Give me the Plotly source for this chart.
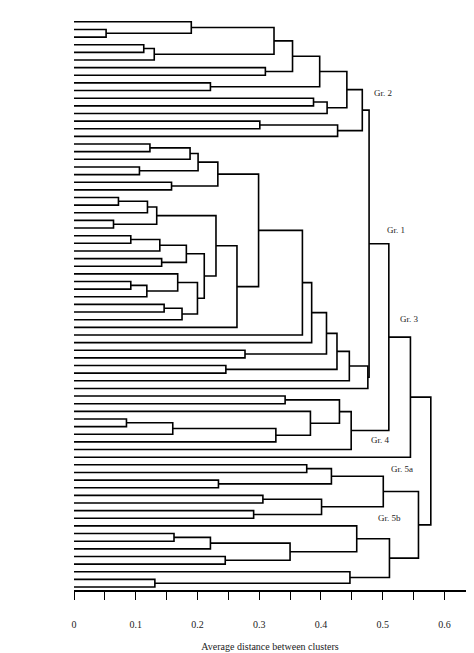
import plotly.graph_objects as go

leaves = ["Kolben","Extra Kolben","Extra Kolben II","Diamant","Rival","Diamant II","Tarami","Progress",
"Tilbi","Loja","Rubin","Drott","Vårpärl","Atle","Blanka","Atson","Kärn II","Prins","Snabbe","Kärn",
"Svenno","Saffran","Kadett","Ring","Sonett","Rang","Pompe","Troll","Sappo","Walter","William","Dragon",
"Ducke","Drabant","Trippel","Timmo","Canon","Sunnan","Nemares","Solser","Boru","Amy","Möystad","Reno",
"Tjalve","Bazatian","Sport","Tilly","Pondus","Fylgia","Fylgia II","Brons","Rusco","Fagott","Taava","Ulla",
"Apu","Peko","Ås I","Snögg II","Fram","Fram II","Snögg","Ås II","Kimmo","Trym","Skene","Tautra","Lanor",
"Touko","Nora","Norrøna","Safir","Rollo","Runar"]

merges = [  # (name, child a, child b, average distance)
("m1","Extra Kolben","Extra Kolben II",0.052),("m2","Kolben","m1",0.190),("m3","Diamant","Rival",0.113),
("m4","m3","Diamant II",0.130),("m5","m2","m4",0.324),("m6","Tarami","Progress",0.310),("m7","m5","m6",0.354),
("m8","Tilbi","Loja",0.221),("m9","m7","m8",0.398),("m10","Rubin","Drott",0.388),("m11","m10","Vårpärl",0.410),
("m12","m9","m11",0.442),("m13","Atle","Blanka",0.301),("m14","m13","Atson",0.427),("G2","m12","m14",0.467),
("n1","Kärn II","Prins",0.123),("n2","n1","Snabbe",0.188),("n3","Kärn","Svenno",0.106),("n4","n2","n3",0.201),
("n5","Saffran","Kadett",0.158),("n6","n4","n5",0.233),("r1","Ring","Sonett",0.072),("r2","r1","Rang",0.119),
("r3","Pompe","Troll",0.064),("r4","r2","r3",0.134),("s1","Sappo","Walter",0.092),("s2","s1","William",0.139),
("s3","Dragon","Ducke",0.142),("s4","s2","s3",0.182),("t1","Trippel","Timmo",0.092),("t2","t1","Canon",0.118),
("t3","Drabant","t2",0.168),("u1","Sunnan","Nemares",0.146),("u2","u1","Solser",0.175),("t4","t3","u2",0.200),
("s5","s4","t4",0.211),("r5","r4","s5",0.230),("r6","r5","Boru",0.264),("n7","n6","r6",0.299),
("n8","n7","Amy",0.370),("n9","n8","Möystad",0.385),("v1","Reno","Tjalve",0.277),("n10","n9","v1",0.409),
("w1","Bazatian","Sport",0.246),("n11","n10","w1",0.426),("n12","n11","Tilly",0.446),("G1","n12","Pondus",0.476),
("G12","G2","G1",0.478),("f1","Fylgia","Fylgia II",0.342),("f2","Rusco","Fagott",0.085),("f3","f2","Taava",0.160),
("f4","f3","Ulla",0.327),("f5","Brons","f4",0.383),("f6","f1","f5",0.430),("G4","f6","Apu",0.449),
("G124","G12","G4",0.510),("G3","G124","Peko",0.545),("a1","Ås I","Snögg II",0.377),("a2","Fram","Fram II",0.234),
("a3","a1","a2",0.417),("a4","Snögg","Ås II",0.306),("a5","Kimmo","Trym",0.291),("a6","a4","a5",0.401),
("G5a","a3","a6",0.501),("b1","Tautra","Lanor",0.162),("b2","b1","Touko",0.221),("b3","Nora","Norrøna",0.245),
("b4","b2","b3",0.350),("b5","Skene","b4",0.458),("b6","Rollo","Runar",0.131),("b7","Safir","b6",0.447),
("G5b","b5","b7",0.511),("G5","G5a","G5b",0.558),("root","G3","G5",0.578)]

grp_text = ["Gr. 2", "Gr. 1", "Gr. 3", "Gr. 4", "Gr. 5a", "Gr. 5b"]
grp_x = [0.501, 0.521, 0.543, 0.496, 0.532, 0.511]
grp_y = [9.3, 27.3, 38.9, 54.8, 58.6, 65.0]

nodes = {name: (float(i), 0.0) for i, name in enumerate(leaves)}
xs, ys = [], []
for name, a, b, h in merges:
    pa, pb = nodes[a], nodes[b]
    xs += [pa[1], h, h, pb[1], None]
    ys += [pa[0], pa[0], pb[0], pb[0], None]
    nodes[name] = ((pa[0] + pb[0]) / 2, h)

fig = go.Figure(go.Scatter(x=xs, y=ys, mode="lines", line=dict(color="black", width=1.6),
                           hoverinfo="skip", showlegend=False))

ann = []
for i, name in enumerate(leaves):
    ann.append(dict(x=-0.085, y=i, xref="x", yref="y", text=name, showarrow=False, xanchor="left",
                    font=dict(size=6.5, family="Liberation Serif", color="#222")))
for t, gx, gy in zip(grp_text, grp_x, grp_y):
    ann.append(dict(x=gx, y=gy, text=t, showarrow=False, bgcolor="white",
                    font=dict(size=9, family="Liberation Serif", color="#222")))

fig.update_layout(
    width=474, height=653, margin=dict(l=66, r=16, t=10, b=69),
    plot_bgcolor="white", paper_bgcolor="white", annotations=ann,
    font=dict(family="Liberation Serif", color="#222"),
    xaxis=dict(range=[0, 0.635], showgrid=False, zeroline=False, showline=True, linecolor="black", linewidth=1.5,
               ticks="outside", ticklen=8, tickcolor="black", tickwidth=1.2,
               tickvals=[0, 0.05, 0.1, 0.15, 0.2, 0.25, 0.3, 0.35, 0.4, 0.45, 0.5, 0.55, 0.6],
               ticktext=["0", "", "0.1", "", "0.2", "", "0.3", "", "0.4", "", "0.5", "", "0.6"],
               tickfont=dict(size=10), ticklabelstandoff=16,
               title=dict(text="Average distance between clusters", font=dict(size=10), standoff=14)),
    yaxis=dict(range=[74.39, -0.5], visible=False),
)
fig.write_html("out.html")
